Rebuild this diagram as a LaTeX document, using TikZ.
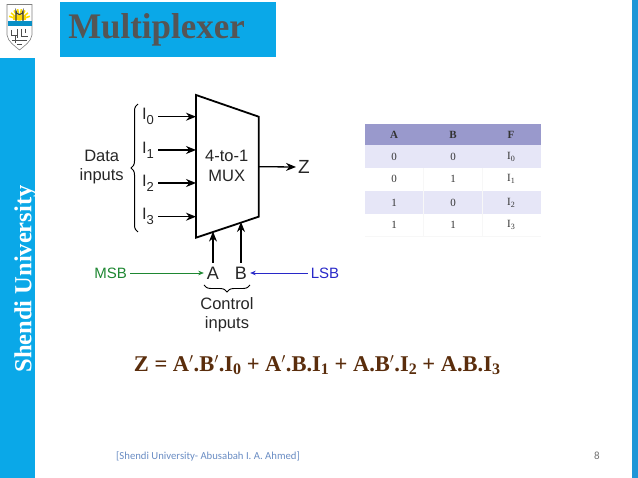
\documentclass[tikz,border=0pt]{standalone}
\usepackage{xcolor}
\usepackage{fontspec}
\setmainfont{Liberation Serif}
\setsansfont{Liberation Sans}
\newfontfamily\footfont{Carlito}
\usepackage{tikz}
\usetikzlibrary{arrows.meta, positioning, decorations.pathreplacing, backgrounds}
\definecolor{slideblue}{RGB}{10,168,232}
\definecolor{stripblue}{RGB}{30,150,215}
\definecolor{titlegray}{RGB}{85,85,85}
\definecolor{eqnbrown}{RGB}{90,45,12}
\definecolor{footblue}{RGB}{105,140,195}
\definecolor{tabhead}{RGB}{153,153,204}
\definecolor{tabrow}{RGB}{230,230,247}
\definecolor{msbgreen}{RGB}{30,135,50}
\definecolor{lsbblue}{RGB}{40,40,200}

\begin{document}
\begin{tikzpicture}[
    x=1pt, y=-1pt,
    lbl/.style={inner sep=0pt, text=black!85, font=\sffamily\fontsize{16.5}{16.5}\selectfont},
    cell/.style={inner sep=0pt, font=\fontsize{11}{11}\selectfont, text=black!80},
    arr/.style={-{Stealth[length=10pt,width=8pt]}, line width=1.3pt},
    thinarr/.style={-{Stealth[length=5.5pt,width=4.5pt]}, line width=0.7pt},
    brace/.style={decorate, decoration={brace, amplitude=7pt}, line width=1pt}
]
\useasboundingbox (0,0) rectangle (638,478);

% slide frame
\fill[slideblue] (60,2) rectangle (276,57);
\fill[slideblue] (0,58) rectangle (35,478);
\fill[stripblue] (632,0) rectangle (638,478);
\node[inner sep=0pt, text=titlegray, font=\bfseries\fontsize{36}{36}\selectfont, xscale=0.97] (title) at (156.5,30) {Multiplexer};
\node[inner sep=0pt, text=white, rotate=90, font=\bfseries\fontsize{24.5}{24.5}\selectfont] (uni) at (25.5,279) {Shendi University};

% logo
\draw[black!50, line width=0.6pt, fill=white] (7,4.5) -- (32,4.5) -- (32,35) .. controls (31,42) and (24,46) .. (19.5,50) .. controls (15,46) and (8,42) .. (7,35) -- cycle;
\foreach \ang in {200,220,...,340}
  \draw[yellow!80!orange, line width=1.6pt] (19.5,20) -- ++(\ang:11);
\fill[yellow!75!orange] (13,20) rectangle (26,15);
\fill[slideblue!85!black] (7.5,21) rectangle (31.5,26);
\draw[black!75, line width=1.1pt] (16,21) -- (16,11) arc[start angle=180, end angle=0, radius=3.5] -- (23,21);
\draw[black!70, line width=0.9pt] (11,30) -- (11,35) -- (17,35) (17,29) -- (17,38) (21,29) -- (21,36) -- (28,36) (25,29) -- (25,33) (12,40) -- (27,40) (15,36) -- (15,43) (17,44) -- (22,44);

% mux
\draw[line width=1.8pt, line join=miter] (196,95) -- (258.7,116.7) -- (258.7,216.7) -- (196,237.7) -- cycle;
\node[lbl, align=center] (mux) at (226.7,166) {4-to-1\\[3.5pt]MUX};
\coordinate (zout) at (258.7,166.7);

\foreach \i/\y in {0/116.7,1/150,2/183,3/216.7}{
  \coordinate (d\i) at (196,\y);
  \node[lbl, anchor=center] (in\i) at (148,\y) {I\raisebox{-5pt}{\fontsize{13}{13}\selectfont\i}};
  \draw[arr] (158,\y) -- (d\i);
}
\node[lbl, font=\sffamily\fontsize{19}{19}\selectfont] (z) at (304,167) {Z};
\draw[arr] (zout) -- ([xshift=-2pt]z.west);

\node[lbl, align=center] (data) at (101.7,167) {Data\\[3pt]inputs};
\draw[brace] (138,232) -- (138,104);

% select lines
\node[lbl, font=\sffamily\fontsize{18}{18}\selectfont] (a) at (213,273) {A};
\node[lbl, font=\sffamily\fontsize{18}{18}\selectfont] (b) at (241,273) {B};
\coordinate (atop) at (213,231.6);
\coordinate (btop) at (241,222);
\draw[arr] ([yshift=4pt]a.north) -- (atop);
\draw[arr] ([yshift=4pt]b.north) -- (btop);

\node[lbl, text=msbgreen, font=\sffamily\fontsize{15}{15}\selectfont] (msb) at (110.7,273) {MSB};
\node[lbl, text=lsbblue, font=\sffamily\fontsize{15}{15}\selectfont] (lsb) at (325,273) {LSB};
\draw[thinarr, msbgreen] ([xshift=3pt]msb.east) -- ([xshift=-3pt]a.west);
\draw[thinarr, lsbblue] ([xshift=-3pt]lsb.west) -- ([xshift=3pt]b.east);

\draw[brace, line width=0.9pt] (250,285) -- (204,285);
\node[lbl, align=center] (ctrl) at (227,314.5) {Control\\[3pt]inputs};

% table
\fill[tabhead] (365,124.3) rectangle (541,145);
\fill[tabrow] (365,145) rectangle (541,167.7);
\fill[tabrow] (365,190.7) rectangle (541,214);
\draw[black!3] (365,236) -- (541,236) (423,167.7) -- (423,236) (482,167.7) -- (482,236);
\foreach \col/\x in {A/394,B/453,F/511}
  \node[cell, font=\bfseries\fontsize{11}{11}\selectfont] (h\col) at (\x,135) {\col};
\foreach \r/\y/\va/\vb/\vf in {0/156.5/0/0/0,1/179/0/1/1,2/202.5/1/0/2,3/225/1/1/3}{
  \node[cell] (ra\r) at (394,\y) {\va};
  \node[cell] (rb\r) at (453,\y) {\vb};
  \node[cell] (rf\r) at (511,\y) {I\raisebox{-2pt}{\fontsize{8}{8}\selectfont\vf}};
}

% equation and footer
\node[inner sep=0pt, text=eqnbrown, font=\bfseries\fontsize{22.5}{22.5}\selectfont] (eqn) at (317,365)
  {Z = A$'$.B$'$.I\raisebox{-3pt}{\fontsize{16}{16}\selectfont 0} + A$'$.B.I\raisebox{-3pt}{\fontsize{16}{16}\selectfont 1} + A.B$'$.I\raisebox{-3pt}{\fontsize{16}{16}\selectfont 2} + A.B.I\raisebox{-3pt}{\fontsize{16}{16}\selectfont 3}};
\node[inner sep=0pt, anchor=west, text=footblue, font=\footfont\fontsize{10.7}{11}\selectfont] (foot) at (116,456) {[Shendi University- Abusabah I. A. Ahmed]};
\node[inner sep=0pt, text=black!55, font=\footfont\fontsize{11}{11}\selectfont] (page) at (597,456) {8};
\end{tikzpicture}
\end{document}
